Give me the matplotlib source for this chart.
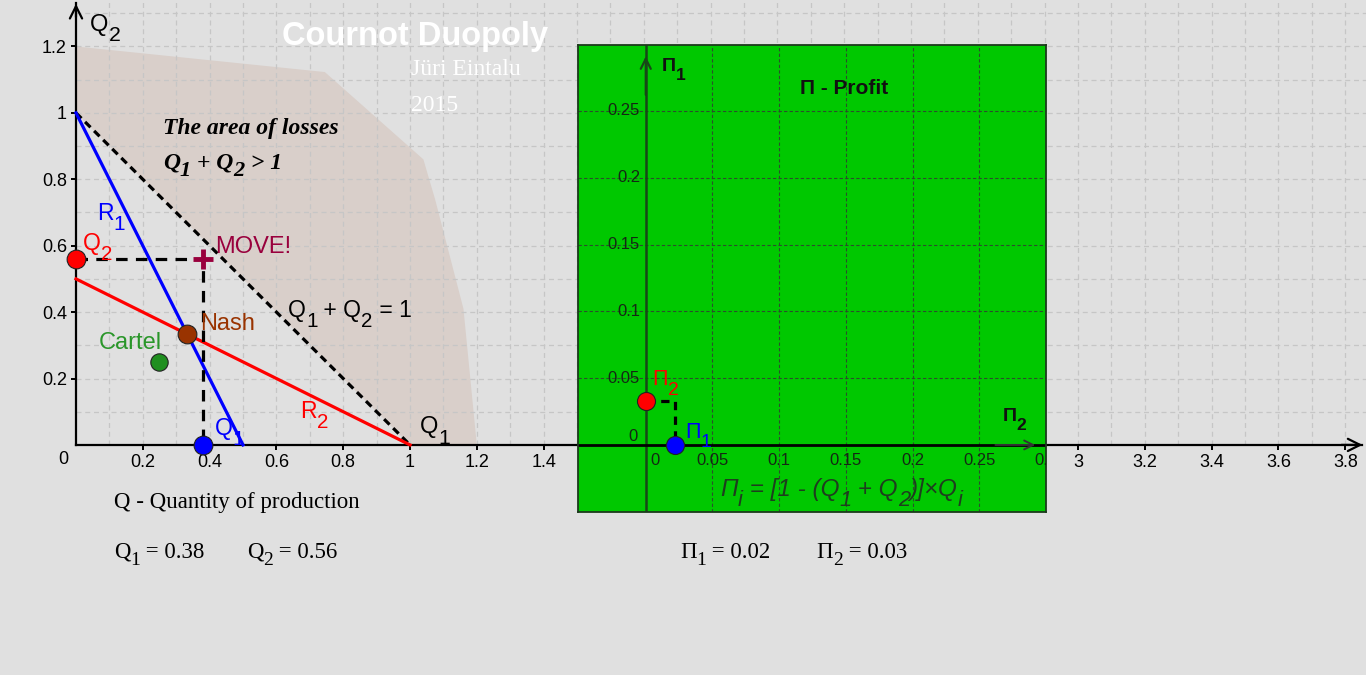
import matplotlib
matplotlib.use('Agg')
import matplotlib.pyplot as plt
import numpy as np

plt.rcParams['font.family'] = ['Liberation Sans', 'DejaVu Sans']

# ---------------- data ----------------
q1_value = 0.38
q2_value = 0.56
nash_point = (0.333, 0.333)
cartel_point = (0.25, 0.25)
r1_q1 = [0.0, 0.5]
r1_q2 = [1.0, 0.0]
r2_q1 = [0.0, 1.0]
r2_q2 = [0.5, 0.0]
zero_q1 = [0.0, 1.0]
zero_q2 = [1.0, 0.0]
loss_q1 = [0.0, 0.0, 0.745, 1.04, 1.075, 1.16, 1.2, 1.0]
loss_q2 = [1.0, 1.2, 1.123, 0.86, 0.74, 0.41, 0.0, 0.0]
pi1_value = 0.022
pi2_value = 0.033

x_ticks = [0.2, 0.4, 0.6, 0.8, 1.0, 1.2, 1.4, 1.6, 1.8, 2.0, 2.2, 2.4, 2.6, 2.8,
           3.0, 3.2, 3.4, 3.6, 3.8]
x_tick_labels = ['0.2', '0.4', '0.6', '0.8', '1', '1.2', '1.4', '1.6', '1.8', '2',
                 '2.2', '2.4', '2.6', '2.8', '3', '3.2', '3.4', '3.6', '3.8']
y_ticks = [0.2, 0.4, 0.6, 0.8, 1.0, 1.2]
y_tick_labels = ['0.2', '0.4', '0.6', '0.8', '1', '1.2']
inset_ticks = [0.05, 0.1, 0.15, 0.2, 0.25, 0.3]
inset_tick_labels = ['0.05', '0.1', '0.15', '0.2', '0.25', '0.3']

# ---------------- figure ----------------
BG = '#e0e0e0'
fig = plt.figure(figsize=(13.66, 6.75), dpi=100)
fig.patch.set_facecolor(BG)
ax = fig.add_axes([0, 0, 1, 1])
ax.set_facecolor(BG)
XMIN, XMAX, YMIN, YMAX = -0.2275, 3.862, -0.693, 1.340
ax.set_xlim(XMIN, XMAX)
ax.set_ylim(YMIN, YMAX)
renderer = fig.canvas.get_renderer()


def piece_width(axx, txt, size, **kw):
    """width of a text piece in points (spaces included)."""
    a = axx.text(0, 0, '|' + txt + '|', fontsize=size, **kw)
    b = axx.text(0, 0, '||', fontsize=size, **kw)
    w = a.get_window_extent(renderer).width - b.get_window_extent(renderer).width
    a.remove()
    b.remove()
    return w * 72.0 / fig.dpi


def rich(axx, x, y, pieces, size, sub_scale=0.9, sub_drop=0.45, **kw):
    """pieces: list of (text, is_subscript); (x, y) = left baseline in data coords."""
    dx = 0.0
    for txt, sub in pieces:
        fs = size * sub_scale if sub else size
        dy = -sub_drop * size if sub else 0.0
        axx.annotate(txt, xy=(x, y), xycoords='data', xytext=(dx, dy),
                     textcoords='offset points', fontsize=fs, ha='left',
                     va='baseline', **kw)
        dx += piece_width(axx, txt, fs, **kw)


# grid (first quadrant only)
gx = np.round(np.arange(1, 39) * 0.1, 2)
gy = np.round(np.arange(1, 14) * 0.1, 2)
GRID = '#c6c6c6'
ax.vlines(gx, 0, YMAX, colors=GRID, linestyles=(0, (4, 3)), lw=0.9, zorder=1)
ax.hlines(gy, 0, XMAX, colors=GRID, linestyles=(0, (4, 3)), lw=0.9, zorder=1)

# loss area
ax.fill(loss_q1, loss_q2, color='#d9cfca', lw=0, zorder=0.5)

# axes
for s in ['top', 'right']:
    ax.spines[s].set_visible(False)
ax.spines['left'].set_position(('data', 0))
ax.spines['bottom'].set_position(('data', 0))
ax.spines['left'].set_bounds(0, 1.33)
ax.spines['bottom'].set_bounds(0, 3.85)
ax.spines['left'].set_linewidth(1.6)
ax.spines['bottom'].set_linewidth(1.6)
ax.set_xticks(x_ticks, x_tick_labels)
ax.set_yticks(y_ticks, y_tick_labels)
ax.tick_params(direction='out', length=3.5, width=1.4, labelsize=13, pad=3)
ax.annotate('', xy=(3.86, 0), xytext=(3.78, 0),
            arrowprops=dict(arrowstyle='->', lw=1.6, color='black', mutation_scale=22))
ax.annotate('', xy=(0, 1.337), xytext=(0, 1.28),
            arrowprops=dict(arrowstyle='->', lw=1.6, color='black', mutation_scale=22))
ax.text(-0.039, -0.045, '0', fontsize=13, ha='center', va='center')

# lines
ax.plot(zero_q1, zero_q2, color='black', lw=2.3, dashes=(2.4, 1.6), zorder=3)
ax.plot(r1_q1, r1_q2, color='#0000ff', lw=2.3, zorder=3)
ax.plot(r2_q1, r2_q2, color='#ff0000', lw=2.3, zorder=3)
ax.plot([0, q1_value, q1_value], [q2_value, q2_value, 0], color='black', lw=2.3,
        dashes=(3.6, 2.6), zorder=3)

# points
ms = 13.5
ax.plot(0, q2_value, 'o', ms=ms, mfc='#ff0000', mec='#222222', mew=0.8, zorder=6)
ax.plot(q1_value, 0, 'o', ms=ms, mfc='#0000ff', mec='#222222', mew=0.8, zorder=6)
ax.plot(*nash_point, 'o', ms=ms, mfc='#993300', mec='#222222', mew=0.8, zorder=6)
ax.plot(*cartel_point, 'o', ms=12.5, mfc='#1f8f1f', mec='#222222', mew=0.8, zorder=6)
ax.plot(q1_value, q2_value, '+', ms=14, mew=3.5, color='#99003d', zorder=6)

# labels
rich(ax, 0.042, 1.248, [('Q', 0), ('2', 1)], 17, color='black')
rich(ax, 1.03, 0.036, [('Q', 0), ('1', 1)], 17, color='black')
rich(ax, 0.063, 0.678, [('R', 0), ('1', 1)], 16.5, color='#0000ff')
rich(ax, 0.021, 0.587, [('Q', 0), ('2', 1)], 16.5, color='#ff0000')
ax.text(0.416, 0.578, 'MOVE!', fontsize=17, color='#99003d')
ax.text(0.371, 0.346, 'Nash', fontsize=17, color='#993300')
ax.text(0.069, 0.289, 'Cartel', fontsize=17, color='#2a962a')
rich(ax, 0.416, 0.030, [('Q', 0), ('1', 1)], 16.5, color='#0000ff')
rich(ax, 0.671, 0.081, [('R', 0), ('2', 1)], 16.5, color='#ff0000')
rich(ax, 0.635, 0.385, [('Q', 0), ('1', 1), (' + Q', 0), ('2', 1), (' = 1', 0)], 16.5,
     color='black')

ax.text(0.26, 0.937, 'The area of losses', fontsize=17, family='Liberation Serif',
        style='italic', weight='bold', color='black')
rich(ax, 0.26, 0.832, [('Q', 0), ('1', 1), (' + Q', 0), ('2', 1), (' > 1', 0)], 17,
     sub_scale=0.95, sub_drop=0.3, family='Liberation Serif', style='italic',
     weight='bold', color='black')

# title block
ax.text(1.015, 1.229, 'Cournot Duopoly', fontsize=23.5, weight='bold', color='white',
        ha='center', va='center')
ax.text(1.003, 1.130, 'Jüri Eintalu', fontsize=17, family='Liberation Serif',
        color='white', va='center')
ax.text(1.003, 1.021, '2015', fontsize=17, family='Liberation Serif',
        color='white', va='center')

# bottom texts
SERIF = dict(family='Liberation Serif', color='black')
ax.text(0.114, -0.190, 'Q - Quantity of production', fontsize=16.5, **SERIF)
rich(ax, 0.114, -0.340, [('Q', 0), ('1', 1), (' = %.2f' % q1_value, 0)], 16.5,
     sub_scale=0.85, sub_drop=0.3, **SERIF)
rich(ax, 0.512, -0.340, [('Q', 0), ('2', 1), (' = %.2f' % q2_value, 0)], 16.5,
     sub_scale=0.85, sub_drop=0.3, **SERIF)
rich(ax, 1.808, -0.340, [('Π', 0), ('1', 1), (' = %.2f' % pi1_value, 0)], 16.5,
     sub_scale=0.85, sub_drop=0.3, **SERIF)
rich(ax, 2.216, -0.340, [('Π', 0), ('2', 1), (' = %.2f' % pi2_value, 0)], 16.5,
     sub_scale=0.85, sub_drop=0.3, **SERIF)

# ---------------- inset: profit panel ----------------
W, H = 1366, 675
axin = fig.add_axes([578 / W, (H - 512) / H, 468 / W, 467 / H])
axin.set_facecolor('#00c800')
IX0, IX1, IY0, IY1 = -0.0508, 0.300, -0.0502, 0.2994
axin.set_xlim(IX0, IX1)
axin.set_ylim(IY0, IY1)
axin.set_xticks([])
axin.set_yticks([])
for s in axin.spines.values():
    s.set_color('#1c3a1c')
    s.set_linewidth(1.3)

DK = '#142814'
axin.vlines(inset_ticks[:-1], IY0, IY1, colors='#2b4f2b', linestyles=(0, (3, 2)), lw=0.8, zorder=1)
axin.hlines(inset_ticks[:-1], IX0, IX1, colors='#2b4f2b', linestyles=(0, (3, 2)), lw=0.8, zorder=1)
axin.axvline(0, color='#174717', lw=1.8, zorder=2)
axin.axhline(0, color='black', lw=2.0, zorder=2)
axin.annotate('', xy=(0, 0.293), xytext=(0, 0.26),
              arrowprops=dict(arrowstyle='->', lw=1.6, color='#174717', mutation_scale=18))
axin.annotate('', xy=(0.294, 0), xytext=(0.26, 0),
              arrowprops=dict(arrowstyle='->', lw=1.4, color='#333333', mutation_scale=16))

for t, lab in zip(inset_ticks, inset_tick_labels):
    axin.text(t, -0.0115, lab, fontsize=12, color=DK, ha='center', va='center', clip_on=True)
    if t < 0.29:
        axin.text(-0.0043, t, lab, fontsize=12, color=DK, ha='right', va='center')
axin.text(0.007, -0.0115, '0', fontsize=12, color=DK, ha='center', va='center')
axin.text(-0.006, 0.006, '0', fontsize=12, color=DK, ha='right', va='center')

rich(axin, 0.0122, 0.280, [('Π', 0), ('1', 1)], 14, weight='bold', color='#111111')
rich(axin, 0.2675, 0.018, [('Π', 0), ('2', 1)], 14, weight='bold', color='#111111')
axin.text(0.149, 0.267, 'Π - Profit', fontsize=15, weight='bold', color='#111111',
          ha='center', va='center')
rich(axin, 0.0557, -0.0385,
     [('Π', 0), ('i', 1), (' = [1 - (Q', 0), ('1', 1), (' + Q', 0), ('2', 1),
      (')]×Q', 0), ('i', 1)], 17.5, sub_scale=0.9, sub_drop=0.4,
     style='italic', color='#1e3e1e')

axin.plot([0, pi1_value, pi1_value], [pi2_value, pi2_value, 0], color='black', lw=2.3,
          dashes=(2.6, 2.0), zorder=3)
axin.plot(0, pi2_value, 'o', ms=13, mfc='#ff0000', mec='#222222', mew=0.8, zorder=6, clip_on=False)
axin.plot(pi1_value, 0, 'o', ms=13, mfc='#0000ff', mec='#222222', mew=0.8, zorder=6, clip_on=False)
rich(axin, 0.0047, 0.0445, [('Π', 0), ('2', 1)], 15.5, color='#ff0000')
rich(axin, 0.0295, 0.0055, [('Π', 0), ('1', 1)], 15.5, color='#0000ff')

fig.savefig('out.png', dpi=100, facecolor=BG)
